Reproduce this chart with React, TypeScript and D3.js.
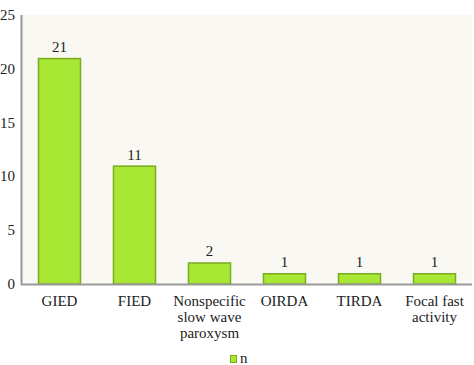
import React from "react";
import * as d3 from "d3";

const categories: string[][] = [
  ["GIED"],
  ["FIED"],
  ["Nonspecific", "slow wave", "paroxysm"],
  ["OIRDA"],
  ["TIRDA"],
  ["Focal fast", "activity"],
];
const values: number[] = [21, 11, 2, 1, 1, 1];
const yTicks: number[] = [0, 5, 10, 15, 20, 25];
const seriesName = "n";

export default function App() {
  const W = 474, H = 365;
  const left = 22, right = 472, top = 15, bottom = 284;
  const x = d3.scaleBand<number>().domain(d3.range(values.length)).range([left, right]).paddingInner(0.4267).paddingOuter(0.2133);
  const y = d3.scaleLinear().domain([0, 25]).range([bottom, top]);
  const font = "'Liberation Serif', 'Times New Roman', serif";
  return (
    <svg width={W} height={H} style={{ position: "absolute", left: 0, top: 0, background: "#fff" }}>
      <rect x={left} y={top} width={right - left} height={bottom - top} fill="#f9f8f3" />
      {values.map((v, i) => (
        <g key={i}>
          <rect x={x(i)! + 0.5} y={y(v) + 0.5} width={x.bandwidth() - 1} height={bottom - y(v) - 0.5} fill="#a8e835" stroke="#78ad1e" strokeWidth={1.5} />
          <text x={x(i)! + x.bandwidth() / 2} y={y(v) - 6} textAnchor="middle" fontFamily={font} fontSize={15} fill="#222">{v}</text>
        </g>
      ))}
      <line x1={left - 0.5} x2={left - 0.5} y1={top} y2={bottom + 1} stroke="#999" strokeWidth={2} />
      <line x1={left - 1} x2={right} y1={bottom + 0.5} y2={bottom + 0.5} stroke="#999" strokeWidth={2} />
      {yTicks.map((t) => (
        <text key={t} x={15} y={y(t) + 5} textAnchor="end" fontFamily={font} fontSize={15} fill="#222">{t}</text>
      ))}
      {categories.map((lines, i) => (
        <text key={i} textAnchor="middle" fontFamily={font} fontSize={15} fill="#222">
          {lines.map((l, j) => (
            <tspan key={j} x={x(i)! + x.bandwidth() / 2} y={306 + j * 16}>{l}</tspan>
          ))}
        </text>
      ))}
      <rect x={230.5} y={355.5} width={6} height={7} fill="#a8e835" stroke="#78ad1e" strokeWidth={1} />
      <text x={240} y={363} fontFamily={font} fontSize={15} fill="#222">{seriesName}</text>
    </svg>
  );
}
